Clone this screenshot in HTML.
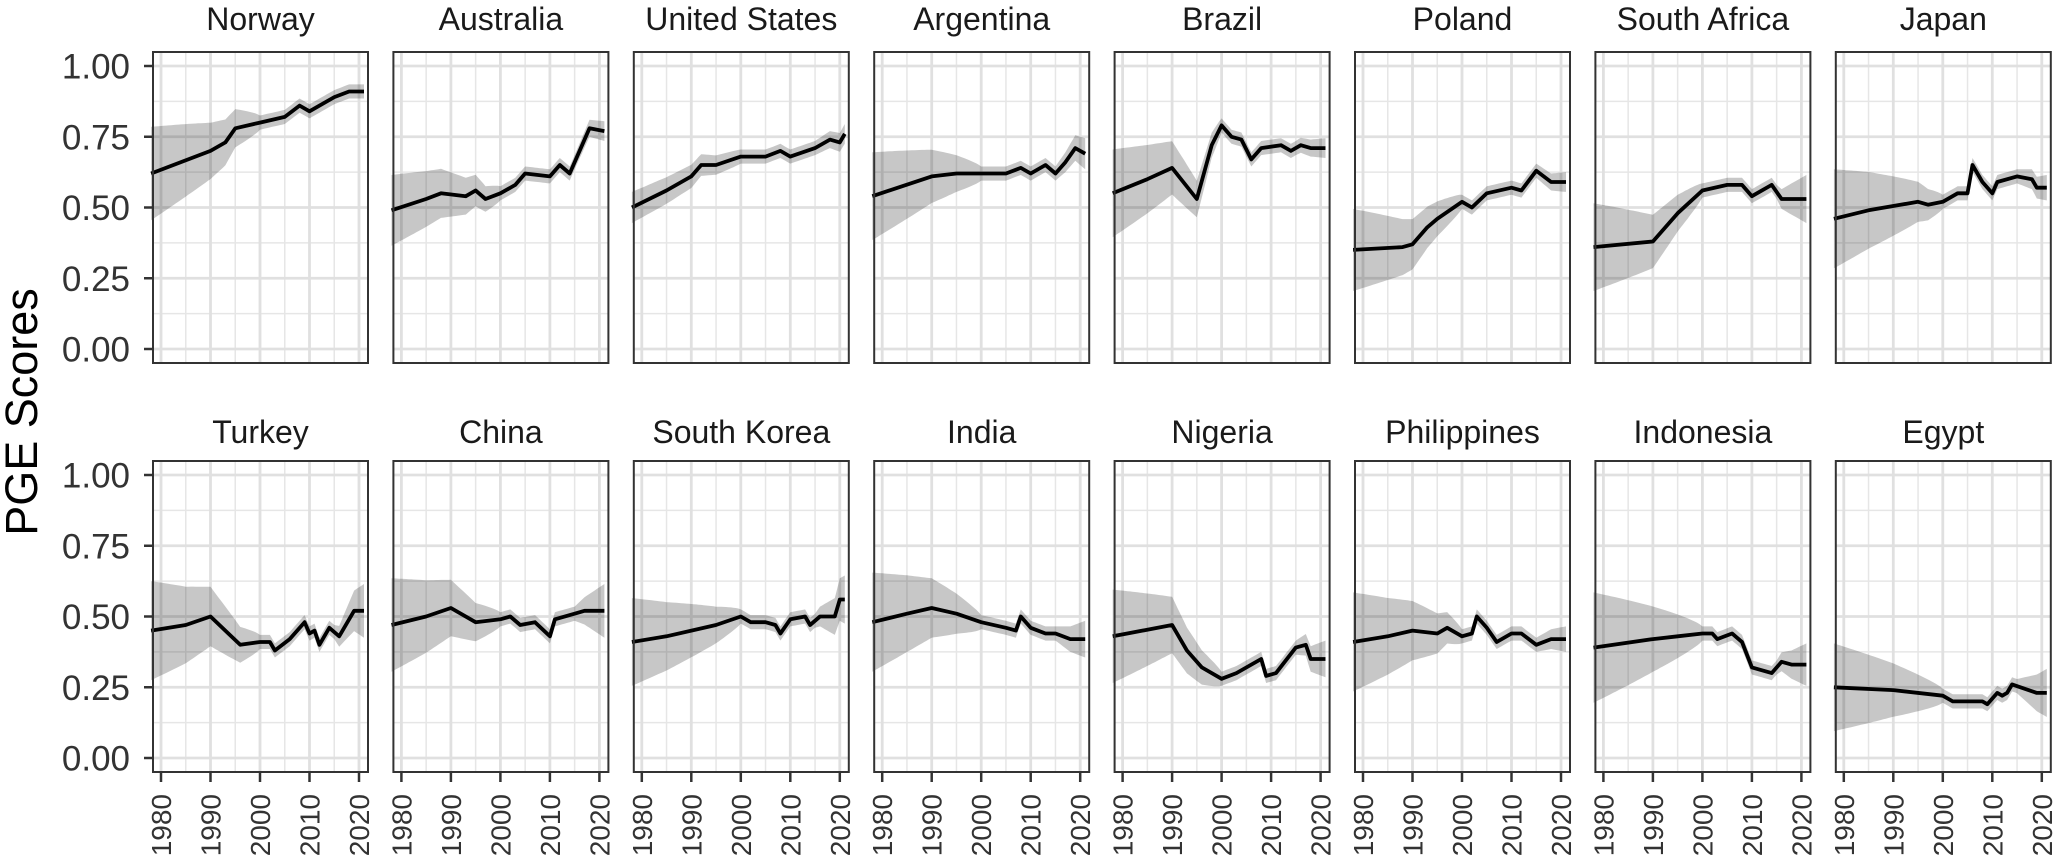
<!DOCTYPE html>
<html><head><meta charset="utf-8"><style>
html,body{margin:0;padding:0;background:#fff;}
svg{display:block;font-family:"Liberation Sans",Arial,sans-serif;}
</style></head><body>
<svg id="c" width="2055" height="862" viewBox="0 0 2055 862" xmlns="http://www.w3.org/2000/svg"></svg>
<script>
const D=[
["Norway",[[1978,.62],[1990,.70],[1993,.73],[1995,.78],[2000,.80],[2005,.82],[2008,.86],[2010,.84],[2015,.89],[2018,.91],[2021,.91]],.14,0],
["Australia",[[1978,.49],[1985,.53],[1988,.55],[1993,.54],[1995,.56],[1997,.53],[2000,.55],[2003,.58],[2005,.62],[2010,.61],[2012,.65],[2014,.62],[2018,.78],[2021,.77]],.1,.01],
["United States",[[1978,.50],[1985,.56],[1990,.61],[1992,.65],[1995,.65],[2000,.68],[2005,.68],[2008,.70],[2010,.68],[2015,.71],[2018,.74],[2020,.73],[2021,.76]],.03,.01],
["Argentina",[[1978,.54],[1990,.61],[1995,.62],[2000,.62],[2005,.62],[2008,.64],[2010,.62],[2013,.65],[2015,.62],[2017,.66],[2019,.71],[2021,.69]],.13,.03],
["Brazil",[[1978,.55],[1985,.60],[1990,.64],[1995,.53],[1998,.72],[2000,.79],[2002,.75],[2004,.74],[2006,.67],[2008,.71],[2012,.72],[2014,.70],[2016,.72],[2018,.71],[2021,.71]],.13,.01],
["Poland",[[1978,.35],[1988,.36],[1990,.37],[1993,.43],[1995,.46],[2000,.52],[2002,.50],[2005,.55],[2010,.57],[2012,.56],[2015,.63],[2018,.59],[2021,.59]],.12,.01],
["South Africa",[[1978,.36],[1990,.38],[1995,.48],[2000,.56],[2005,.58],[2008,.58],[2010,.54],[2014,.58],[2016,.53],[2021,.53]],.13,.06],
["Japan",[[1978,.46],[1985,.49],[1995,.52],[1997,.51],[2000,.52],[2003,.55],[2005,.55],[2006,.65],[2008,.59],[2010,.55],[2011,.59],[2015,.61],[2018,.60],[2019,.57],[2021,.57]],.15,.02],
["Turkey",[[1978,.45],[1985,.47],[1990,.50],[1996,.40],[2000,.41],[2002,.41],[2003,.38],[2006,.42],[2009,.48],[2010,.44],[2011,.45],[2012,.40],[2014,.46],[2016,.43],[2019,.52],[2021,.52]],.15,.07],
["China",[[1978,.47],[1985,.50],[1990,.53],[1995,.48],[2000,.49],[2002,.50],[2004,.47],[2007,.48],[2010,.43],[2011,.49],[2015,.51],[2017,.52],[2021,.52]],.14,.07],
["South Korea",[[1978,.41],[1985,.43],[1995,.47],[2000,.50],[2002,.48],[2005,.48],[2007,.47],[2008,.44],[2010,.49],[2013,.50],[2014,.47],[2016,.50],[2019,.50],[2020,.56],[2021,.56]],.13,.06],
["India",[[1978,.48],[1985,.51],[1990,.53],[1995,.51],[2000,.48],[2005,.46],[2007,.45],[2008,.50],[2010,.46],[2013,.44],[2015,.44],[2018,.42],[2021,.42]],.15,.04],
["Nigeria",[[1978,.43],[1990,.47],[1993,.38],[1996,.32],[2000,.28],[2003,.30],[2006,.33],[2008,.35],[2009,.29],[2011,.30],[2015,.39],[2017,.40],[2018,.35],[2021,.35]],.14,.04],
["Philippines",[[1978,.41],[1985,.43],[1990,.45],[1995,.44],[1997,.46],[2000,.43],[2002,.44],[2003,.50],[2005,.46],[2007,.41],[2010,.44],[2012,.44],[2015,.40],[2018,.42],[2021,.42]],.15,.02],
["Indonesia",[[1978,.39],[1990,.42],[1995,.43],[2000,.44],[2002,.44],[2003,.42],[2006,.44],[2008,.41],[2010,.32],[2014,.30],[2016,.34],[2018,.33],[2021,.33]],.17,.05],
["Egypt",[[1978,.25],[1990,.24],[2000,.22],[2002,.20],[2008,.20],[2009,.19],[2011,.23],[2012,.22],[2013,.23],[2014,.26],[2019,.23],[2021,.23]],.13,.06]
];
const svg=document.getElementById('c');let h='';
const W=215,PH=311;
function interp(p,y){for(let i=0;i<p.length-1;i++){if(y>=p[i][0]&&y<=p[i+1][0]){const t=(y-p[i][0])/(p[i+1][0]-p[i][0]);return p[i][1]+t*(p[i+1][1]-p[i][1]);}}return p[p.length-1][1];}
D.forEach((d,i)=>{
 const r=Math.floor(i/8),c=i%8;
 const L=153+c*240.4,T=r?461:52,B=T+PH;
 const X=y=>L+8+(y-1980)*4.95, Y=v=>B-14-v*283;
 for(let v=0.125;v<1.1;v+=0.25)h+=`<line x1="${L}" x2="${L+W}" y1="${Y(v)}" y2="${Y(v)}" stroke="#e6e6e6" stroke-width="1.5"/>`;
 for(let yr=1985;yr<2020;yr+=10)h+=`<line y1="${T}" y2="${B}" x1="${X(yr)}" x2="${X(yr)}" stroke="#e6e6e6" stroke-width="1.5"/>`;
 for(let v=0;v<=1;v+=0.25)h+=`<line x1="${L}" x2="${L+W}" y1="${Y(v)}" y2="${Y(v)}" stroke="#e0e0e0" stroke-width="2.8"/>`;
 for(let yr=1980;yr<=2020;yr+=10)h+=`<line y1="${T}" y2="${B}" x1="${X(yr)}" x2="${X(yr)}" stroke="#e0e0e0" stroke-width="2.8"/>`;
 const up=[],lo=[],ln=[];
 for(let yr=1978;yr<=2021.001;yr+=0.5){
  const v=interp(d[1],yr);
  const w=0.025+d[2]*Math.pow(Math.max(0,(2000-yr)/22),0.8)+d[3]*Math.max(0,(yr-2015)/6);
  up.push(X(yr).toFixed(1)+','+Y(v+w).toFixed(1));lo.unshift(X(yr).toFixed(1)+','+Y(v-w).toFixed(1));
 }
 d[1].forEach(p=>ln.push(X(p[0]).toFixed(1)+','+Y(p[1]).toFixed(1)));
 h+=`<polygon points="${up.concat(lo).join(' ')}" fill="#000" fill-opacity="0.22"/>`;
 h+=`<polyline points="${ln.join(' ')}" fill="none" stroke="#000" stroke-width="3.8" stroke-linejoin="round"/>`;
 h+=`<rect x="${L}" y="${T}" width="${W}" height="${PH}" fill="none" stroke="#333" stroke-width="2"/>`;
 h+=`<text x="${L+W/2}" y="${r?443:30}" font-size="32" text-anchor="middle" fill="#1a1a1a">${d[0]}</text>`;
 if(c==0){for(let v=0;v<=1;v+=0.25){h+=`<line x1="${L-9}" x2="${L}" y1="${Y(v)}" y2="${Y(v)}" stroke="#333" stroke-width="2.5"/>`;
  h+=`<text x="${L-23}" y="${Y(v)+12.5}" font-size="35" text-anchor="end" fill="#333">${v.toFixed(2)}</text>`;}}
 if(r==1){for(let yr=1980;yr<=2020;yr+=10){h+=`<line x1="${X(yr)}" x2="${X(yr)}" y1="${B}" y2="${B+10}" stroke="#333" stroke-width="2.5"/>`;
  h+=`<text transform="translate(${X(yr)+10},${B+22}) rotate(-90)" font-size="28" text-anchor="end" fill="#333">${yr}</text>`;}}
});
h+=`<text transform="translate(37,412) rotate(-90)" font-size="45" text-anchor="middle" fill="#000">PGE Scores</text>`;
svg.innerHTML=h;
</script>
</body></html>
